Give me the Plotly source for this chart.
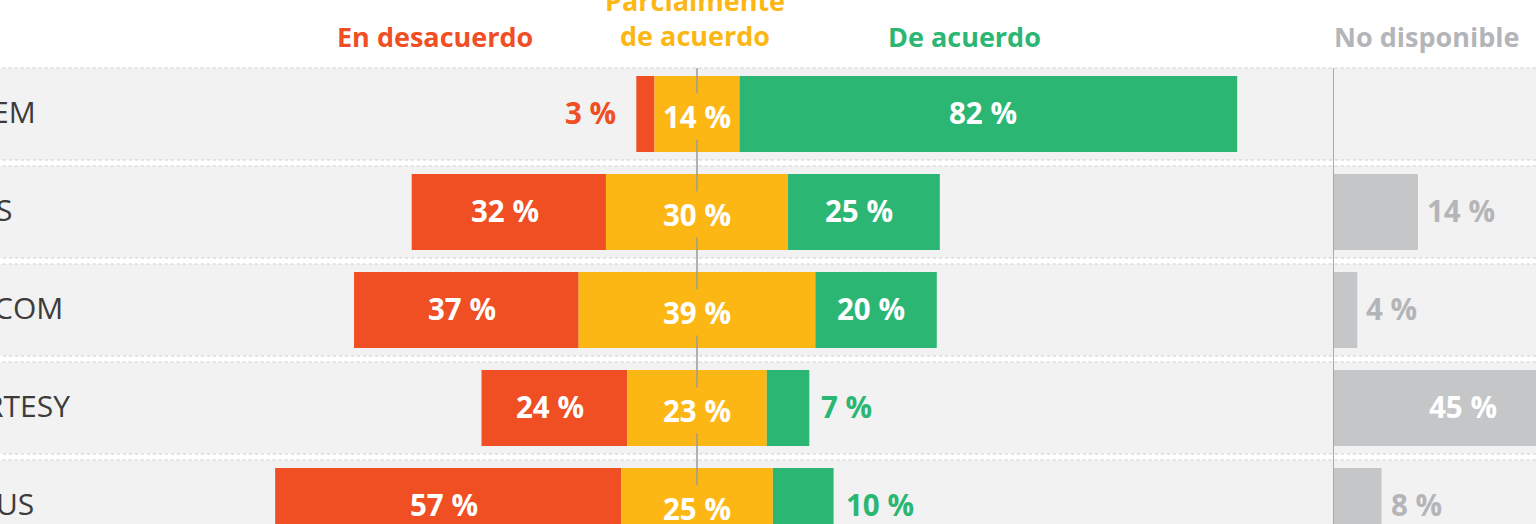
import plotly.graph_objects as go

# ---- data ----
categories = ["EM", "S", "COM", "RTESY", "US"]
desacuerdo = [3, 32, 37, 24, 57]
parcial = [14, 30, 39, 23, 25]
acuerdo = [82, 25, 20, 7, 10]
no_disponible = [0, 14, 4, 45, 8]
headers = ["En desacuerdo", "Parcialmente<br>de acuerdo", "De acuerdo", "No disponible"]

# ---- styles ----
RED = "#f04e23"
YEL = "#fdb714"
GRN = "#2bb673"
GRY = "#c5c6c8"
GRY_TXT = "#b4b5b8"
ROW_BG = "#f2f2f2"
FONT = "Open Sans"

W, H = 1536, 524
PX = 6.07          # pixels per percent
CENTER = 697       # pixel of the centre line
SPLIT = 1333       # pixel where "No disponible" panel starts
ROW_PX = 98        # row pitch in px
ROW0 = 114         # centre of first row in px

ypos = list(range(len(categories)))

fig = go.Figure()

red_base = [-p / 2 - d for d, p in zip(desacuerdo, parcial)]
yel_base = [-p / 2 for p in parcial]
grn_base = [p / 2 for p in parcial]

bw = 76 / ROW_PX
fig.add_trace(go.Bar(y=ypos, x=desacuerdo, base=red_base, orientation="h",
                     marker=dict(color=RED, line=dict(width=0)), width=bw, hoverinfo="skip"))
fig.add_trace(go.Bar(y=ypos, x=parcial, base=yel_base, orientation="h",
                     marker=dict(color=YEL, line=dict(width=0)), width=bw, hoverinfo="skip"))
fig.add_trace(go.Bar(y=ypos, x=acuerdo, base=grn_base, orientation="h",
                     marker=dict(color=GRN, line=dict(width=0)), width=bw, hoverinfo="skip"))
fig.add_trace(go.Bar(y=ypos, x=no_disponible, orientation="h", xaxis="x2",
                     marker=dict(color=GRY, line=dict(width=0)), width=bw, hoverinfo="skip"))

ann = []
lab_font = lambda c: dict(family=FONT, size=29.5, color=c, weight=700)

for i in ypos:
    d, p, a, n = desacuerdo[i], parcial[i], acuerdo[i], no_disponible[i]
    # red
    if d >= 15:
        ann.append(dict(x=-p / 2 - d / 2, y=i, xref="x", yref="y", text=f"{d} %",
                        showarrow=False, font=lab_font("white"), xshift=-4, yshift=2))
    else:
        ann.append(dict(x=-p / 2 - d, y=i, xref="x", yref="y", text=f"{d} %",
                        showarrow=False, xanchor="right", xshift=-18, yshift=2,
                        font=lab_font(RED)))
    # yellow (always inside, masks the centre line)
    ann.append(dict(x=0, y=i, xref="x", yref="y", text=f"{p} %", showarrow=False,
                    font=lab_font("white"), bgcolor=YEL, borderpad=2, yshift=-2))
    # green
    if a >= 15:
        ann.append(dict(x=p / 2 + a / 2, y=i, xref="x", yref="y", text=f"{a} %",
                        showarrow=False, font=lab_font("white"), xshift=-5, yshift=2))
    else:
        ann.append(dict(x=p / 2 + a, y=i, xref="x", yref="y", text=f"{a} %",
                        showarrow=False, xanchor="left", xshift=10, yshift=2,
                        font=lab_font(GRN)))
    # no disponible
    if n > 0:
        if n >= 15:
            ann.append(dict(x=n / 2, y=i, xref="x2", yref="y", text=f"{n} %",
                            showarrow=False, font=lab_font("white"), xshift=-7, yshift=2))
        else:
            ann.append(dict(x=n, y=i, xref="x2", yref="y", text=f"{n} %",
                            showarrow=False, xanchor="left", xshift=7, yshift=2,
                            font=lab_font(GRY_TXT)))

# left category labels (cut off at the left edge as in the reference)
label_right = [38, 14, 65, 72, 36]
for i, (c, r) in enumerate(zip(categories, label_right)):
    ann.append(dict(x=r / W, y=i, xref="paper", yref="y", text=c, showarrow=False,
                    xanchor="right", yshift=3,
                    font=dict(family=FONT, size=30, color="#3c3c3c")))

# headers
hdr_x = [435, 695, 964, 1427]
hdr_y = [37, 18, 37, 37]
hdr_c = [RED, YEL, GRN, GRY_TXT]
for t, hx, hy, hc in zip(headers, hdr_x, hdr_y, hdr_c):
    ann.append(dict(x=hx / W, y=1 - hy / H, xref="paper", yref="paper", text=t,
                    showarrow=False, xanchor="center", yanchor="middle",
                    font=dict(family=FONT, size=27, color=hc, weight=700)))

shapes = []
half = 46 / ROW_PX
for i in ypos:
    shapes.append(dict(type="rect", xref="paper", yref="y", x0=-0.01, x1=1.01,
                       y0=i - half, y1=i + half, fillcolor=ROW_BG,
                       line=dict(color="#cdcdcd", width=1, dash="dot"), layer="below"))
shapes.append(dict(type="line", xref="x", yref="y", x0=0, x1=0, y0=-half, y1=len(categories),
                   line=dict(color="#9a9a9a", width=1.5), layer="above"))
shapes.append(dict(type="line", xref="x2", yref="y", x0=0, x1=0, y0=-half, y1=len(categories),
                   line=dict(color="#a9a9ab", width=2), layer="above"))

y_top = (0 - ROW0) / ROW_PX
y_bot = (H - ROW0) / ROW_PX

fig.update_layout(
    width=W, height=H, margin=dict(l=0, r=0, t=0, b=0),
    paper_bgcolor="white", plot_bgcolor="white",
    barmode="overlay", showlegend=False, hovermode=False,
    xaxis=dict(domain=[0, SPLIT / W], range=[-CENTER / PX, (SPLIT - CENTER) / PX],
               visible=False, fixedrange=True),
    xaxis2=dict(domain=[SPLIT / W, 1], range=[0, (W - SPLIT) / PX], anchor="y",
                visible=False, fixedrange=True),
    yaxis=dict(range=[y_bot, y_top], visible=False, fixedrange=True),
    annotations=ann, shapes=shapes,
)

fig.write_html("out.html")
